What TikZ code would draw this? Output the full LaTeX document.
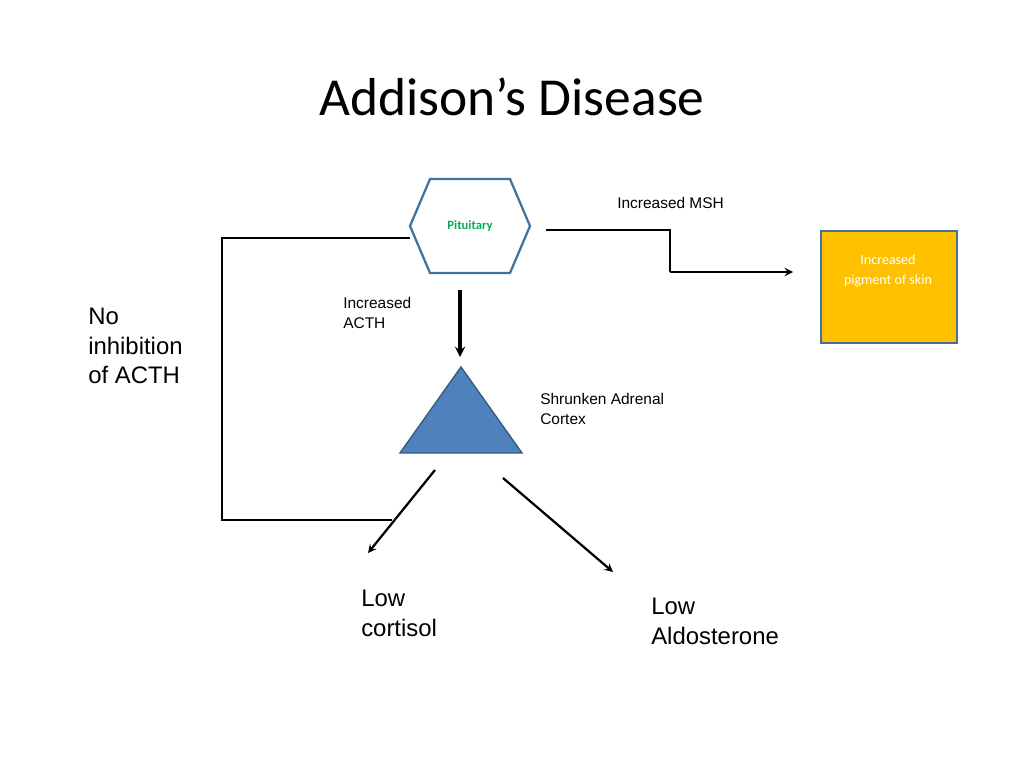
\documentclass[tikz,border=0pt]{standalone}
\usepackage{fontspec}
\setmainfont{Liberation Sans}
\newfontfamily\calibri{Carlito}
\usetikzlibrary{shapes,arrows,positioning,calc}
\definecolor{hexblue}{HTML}{41719C}
\definecolor{triblue}{HTML}{4F81BD}
\definecolor{skin}{HTML}{FFC000}
\definecolor{pitgreen}{HTML}{00B050}
\tikzset{
  small/.style={font=\fontsize{11}{14}\selectfont, align=left, inner sep=0pt},
  big/.style={font=\fontsize{17}{21}\selectfont, align=left, inner sep=0pt},
  link/.style={line width=1.6pt},
  arr/.style={link, -stealth}
}
\begin{document}
\begin{tikzpicture}[x=0.025cm, y=-0.025cm]
\useasboundingbox (0,0) rectangle (1024,768);

% Title
\node[font=\calibri\fontsize{38}{40}\selectfont] (title) at (512,97) {Addison’s Disease};

% Pituitary
\draw[hexblue, line width=1.6pt, fill=white] (410,226) -- (430,179) -- (510,179) -- (530,226) -- (510,273) -- (430,273) -- cycle;
\node[font=\calibri\bfseries\fontsize{9}{10}\selectfont, text=pitgreen] (pit) at (470,226) {Pituitary};
\coordinate (pitL) at (410,238);
\coordinate (pitR) at (546,230);

% Skin box
\node[draw=hexblue, line width=1.6pt, fill=skin, minimum width=3.4cm, minimum height=2.8cm, anchor=north west] (skin) at (820,230) {};
\node[font=\calibri\fontsize{10}{14}\selectfont, text=white, align=center] (skintxt) at (888,271) {Increased\\pigment of skin};
\node[small, anchor=north west] (msh) at (617,197) {Increased MSH};
\coordinate (mshA) at (670,230);
\coordinate (mshB) at (670,272);
\coordinate (mshE) at (793,272);
\draw[link] (pitR) -- (mshA) -- (mshB);
\draw[arr] (mshB) -- (mshE);

% Adrenal
\coordinate (actS) at (460,290);
\coordinate (actE) at (460,357);
\draw[arr, line width=2.2pt] (actS) -- (actE);
\node[small, anchor=north west] (acth) at (343,297) {Increased\\ACTH};
\draw[triblue!70!black, line width=1pt, fill=triblue] (400,453) -- (522,453) -- (461,367) -- cycle;
\coordinate (adr) at (461,420);
\node[small, anchor=north west] (shr) at (540,393) {Shrunken Adrenal\\Cortex};

% Outputs
\node[big, anchor=north west] (cort) at (361,590) {Low\\cortisol};
\node[big, anchor=north west] (aldo) at (651,598) {Low\\Aldosterone};
\coordinate (c1) at (435,470);
\coordinate (c2) at (368,553);
\coordinate (a1) at (503,478);
\coordinate (a2) at (613,572);
\draw[arr] (c1) -- (c2);
\draw[arr] (a1) -- (a2);

% Feedback loop
\coordinate (fbT) at (222,238);
\coordinate (fbB) at (222,520);
\coordinate (fbE) at (392,520);
\draw[link] (pitL) -- (fbT) -- (fbB) -- (fbE);
\node[big, anchor=north west] (noinh) at (88,308) {No\\inhibition\\of ACTH};

\end{tikzpicture}
\end{document}
